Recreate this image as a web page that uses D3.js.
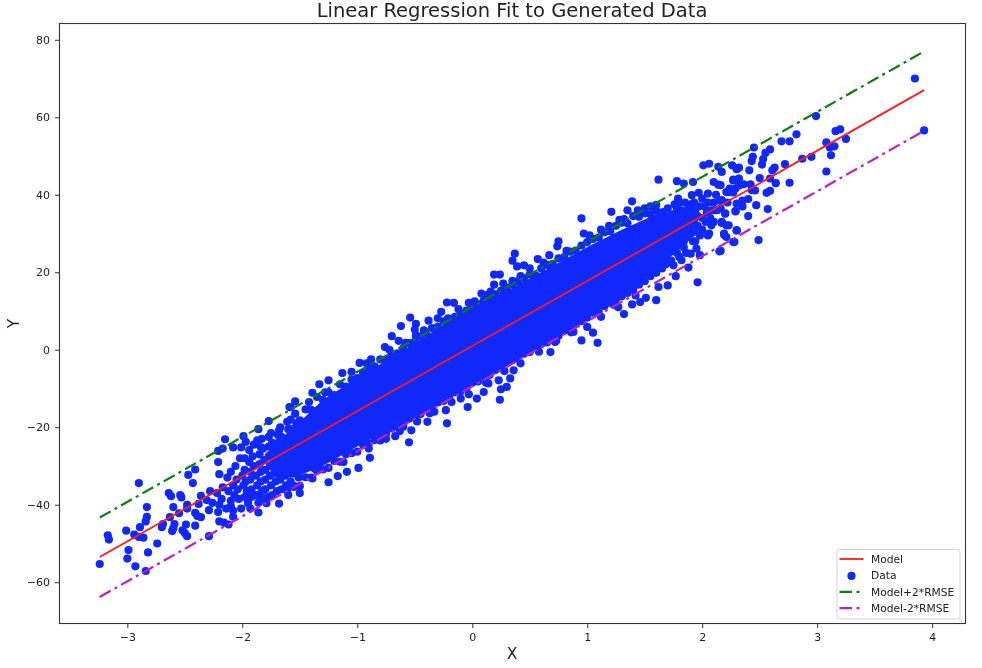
<!DOCTYPE html>
<html>
<head>
<meta charset="utf-8">
<script src="https://cdn.jsdelivr.net/npm/d3@7"></script>
<style>
  html, body { margin: 0; background: #fff; }
  svg { filter: blur(0.35px); }
  text { font-family: "DejaVu Sans", sans-serif; fill: #222; }
</style>
</head>
<body>
<svg id="chart" width="982" height="668"></svg>
<script>
// tick labels
const xTicks = [-3, -2, -1, 0, 1, 2, 3, 4];
const yTicks = [-60, -40, -20, 0, 20, 40, 60, 80];

// fitted lines, end points
const lineX = [-3.24, 3.93];
const modelY = [-53.5, 67];
const plusY = [-43.3, 77];
const minusY = [-63.8, 56.5];

// the middle of the cloud is thousands of overplotted dots, solid blue in the
// reference, so it is kept as an envelope read off the picture, not single dots
const coreX = [-1.75, -1.55, -1.3, -1.0, -0.6, -0.2, 0.2, 0.6, 1.0, 1.3, 1.6, 1.8, 1.95];
const coreUpper = [-25, -20, -13, -7.3, -0.2, 7.4, 13.6, 20, 26.5, 31, 35, 36, 37];
const coreLower = [-33, -33, -30, -25, -18.4, -11.8, -5.2, 1.7, 8.6, 14, 20.5, 26, 30];

const leftTail = [[-3.24,-55.3],[-3.17,-47.9],[-3.16,-49],[-3.01,-46.7],[-2.99,-51.7],[-3,-53.9],[-2.93,-55.9],[-2.84,-57.1],[-2.82,-52.3],[-2.74,-50],[-2.9,-34.4],[-2.94,-47.7],[-2.9,-48.3],[-2.86,-48.5],[-2.89,-45.8],[-2.84,-44.3],[-2.83,-43.1],[-2.83,-40.6],[-2.69,-45],[-2.7,-45.8],[-2.63,-43.2],[-2.6,-40.6],[-2.64,-37],[-2.62,-37.8],[-2.54,-37.5],[-2.53,-38.1],[-2.59,-45],[-2.6,-46.1],[-2.61,-46.8],[-2.55,-42.2],[-2.48,-40],[-2.48,-41],[-2.52,-46.6],[-2.49,-45.1],[-2.5,-47.3],[-2.48,-48.1],[-2.41,-45.4],[-2.41,-42.1],[-2.39,-42.9],[-2.36,-43.2],[-2.38,-39.8],[-2.36,-37.7],[-2.47,-32.3],[-2.41,-30.9],[-2.43,-34.4],[-2.29,-48.1],[-2.31,-38.8],[-2.29,-41.4],[-2.21,-41.9],[-2.2,-44.3],[-2.16,-44.6],[-2.12,-45.1],[-2.08,-43.1],[-2.21,-29],[-2.2,-32.1],[-2.21,-26.1],[-2.17,-25.5],[-2.15,-23.1],[-2.08,-25.2],[-2.01,-25.2],[-1.99,-22.3],[-1.97,-23.8],[-1.94,-25.9],[-1.86,-42],[-1.68,-39.7],[-1.79,-39.6],[-1.77,-18.4],[-1.86,-20.5],[-1.58,-14.8]];

const leftFill = [[-2.28,-36.5],[-2.26,-39.5],[-2.22,-37],[-2.2,-40],[-2.17,-35.5],[-2.18,-38.5],[-2.13,-33],[-2.12,-36.5],[-2.1,-39],[-2.14,-41],[-2.08,-41.5],[-2.06,-30],[-2.05,-33.5],[-2.04,-36],[-2.03,-38.5],[-2.01,-41],[-1.98,-28],[-1.98,-31],[-1.97,-34],[-1.96,-36.5],[-1.95,-39.5],[-1.93,-41],[-1.9,-24.5],[-1.91,-27.5],[-1.9,-30],[-1.88,-32.5],[-1.87,-35],[-1.88,-37.5],[-1.86,-39.5],[-1.83,-23],[-1.82,-25.5],[-1.81,-28.5],[-1.8,-31],[-1.8,-33.5],[-1.8,-36],[-1.78,-38],[-1.75,-21.5],[-1.74,-24],[-1.73,-26],[-1.73,-29],[-1.72,-31.5],[-1.71,-34],[-1.7,-36.5],[-1.67,-20],[-1.66,-22.5],[-1.65,-25],[-1.65,-27.5],[-1.64,-30],[-1.63,-32.5],[-1.62,-35],[-1.6,-37.5],[-1.58,-18],[-1.57,-20.5],[-1.56,-23],[-1.55,-26],[-1.54,-16.5]];

const leftFill2 = [[-2.1,-31.5],[-2.08,-35],[-2.07,-37.5],[-2.02,-28],[-2,-32.5],[-1.99,-35],[-1.98,-38],[-1.94,-29],[-1.93,-31.5],[-1.93,-33.5],[-1.92,-36],[-1.92,-38],[-1.85,-27],[-1.85,-29.5],[-1.84,-31.5],[-1.84,-34],[-1.83,-36.5],[-1.83,-38.5],[-1.77,-25],[-1.77,-27.5],[-1.76,-30],[-1.76,-32.5],[-1.75,-35],[-1.74,-37.5],[-1.69,-22],[-1.69,-24],[-1.69,-26.5],[-1.68,-29],[-1.68,-31],[-1.67,-33.5],[-1.66,-36],[-1.6,-20.5],[-1.6,-23],[-1.6,-25],[-1.6,-27],[-1.59,-29.5],[-1.58,-31.5],[-1.58,-34],[-1.53,-19],[-1.52,-21],[-1.52,-31],[-1.51,-33],[-1.5,-37],[-1.87,-23.4],[-1.77,-22.5],[-1.68,-20.8],[-1.61,-18.6],[-1.84,-25.1],[-1.76,-27.2],[-1.61,-36.3],[-1.95,-39.7],[-2.1,-40.4]];

const upperEdge = [[-1.5,-18.2],[-1.45,-15.4],[-1.4,-15.5],[-1.35,-12.2],[-1.3,-12.9],[-1.25,-11],[-1.2,-11.7],[-1.15,-8.9],[-1.1,-9.5],[-1.05,-7.7],[-1,-7.3],[-0.95,-6],[-0.9,-4.7],[-0.85,-4.3],[-0.8,-2.5],[-0.75,-2.6],[-0.7,-1.3],[-0.65,-0.9],[-0.6,0.4],[-0.55,1.7],[-0.5,2.1],[-0.45,3.4],[-0.4,4.3],[-0.35,5.6],[-0.3,5.9],[-0.25,7.3],[-0.2,7.6],[-0.15,8.5],[-0.1,9.3],[-0.05,10.1],[0,11],[0.05,11.8],[0.1,12.7],[0.15,13.5],[0.2,14.3],[0.25,15.2],[0.3,16],[0.35,16.9],[0.4,17.7],[0.45,18.5],[0.5,19.4],[0.55,19.2],[0.6,21],[0.65,21.9],[0.7,22.2],[0.75,23.6],[0.8,23.9],[0.85,25.3],[0.9,25.6],[0.95,26.9],[1,27.8],[1.05,28.6],[1.1,29],[1.15,30.3],[1.2,30.6],[1.25,32],[1.3,32.8],[1.35,32.65],[1.4,34.5],[1.45,34.3],[1.5,35.2],[1.55,35],[1.6,35.9]];

const upperStray = [[0.37,24.8],[0.35,23],[0.39,21.5],[0.19,19.4],[0.24,19.4],[0.19,16.8],[0.27,17.1],[0.35,17.8],[-0.22,12.2],[-0.16,12.1],[-0.03,12.1],[-0.27,9.8],[-0.54,8.3],[-0.62,6.1],[-0.49,6.7],[-0.5,5.2],[-0.38,7.5],[-0.3,8.1],[-0.21,8.1],[-0.7,3.5],[-0.49,3.7],[-0.64,2.3],[-0.76,0.7],[-0.98,-3.4],[-0.88,-2.5],[-1.13,-6],[-1.05,-5.7],[-1.25,-7.9],[-1.33,-8.9],[-1.39,-11.1],[-1.54,-13.3],[-1.59,-14.8],[0.13,14.1],[1.62,43.9],[1.78,43.5],[1.84,42.9],[1.92,43.3],[2.01,47.6],[2.06,48],[2.14,47.2],[2.17,45.9],[2.1,43.3],[2.14,42.6],[2.27,43.7],[2.26,47.6],[2.23,40.7],[2.29,41.6],[1.39,38.3],[1.21,35.6],[0.95,33.9],[1.35,36],[1.5,36.5],[1.6,37.4],[1.91,39.9],[1.97,40.5],[2.05,40.3],[0.75,28],[0.74,26.7],[0.97,30],[1.19,32],[1.32,33.7],[0.57,23.4],[0.67,24.4],[0.45,21.8],[0.5,21],[1.79,39],[-1.42,-13.5],[-1.28,-11],[-0.92,-3.5],[-0.72,0],[-0.58,1.8],[-0.42,5],[-0.12,10.5],[0.02,12.5],[0.08,14.5],[0.16,15],[0.42,19],[0.62,22.5],[0.82,25.5],[1.02,29.5],[1.12,31],[1.28,33.5],[1.44,36],[1.55,37]];

const lowerEdge = [[-1.55,-35.1],[-1.5,-35.2],[-1.45,-32.9],[-1.4,-33],[-1.35,-31.2],[-1.3,-30.9],[-1.25,-30.5],[-1.2,-28.7],[-1.15,-28.9],[-1.1,-27],[-1.05,-26.7],[-1,-26.3],[-0.95,-24.5],[-0.9,-24.2],[-0.85,-23.3],[-0.8,-22],[-0.75,-21.6],[-0.7,-20.3],[-0.65,-19.95],[-0.6,-19.1],[-0.55,-17.8],[-0.5,-17.4],[-0.45,-16.6],[-0.4,-15.25],[-0.35,-14.9],[-0.3,-13.6],[-0.25,-13.2],[-0.2,-12.4],[-0.15,-11],[-0.1,-10.7],[-0.05,-9.9],[0,-8.5],[0.05,-8.2],[0.1,-6.85],[0.15,-6.5],[0.2,-5.2],[0.25,-4.8],[0.3,-3.5],[0.35,-2.65],[0.4,-2.3],[0.45,-1],[0.5,-0.6],[0.55,0.7],[0.6,1.5],[0.65,1.9],[0.7,3.2],[0.75,3.6],[0.8,4.9],[0.85,5.75],[0.9,6.6],[0.95,7.4],[1,8.3],[1.05,9.6],[1.1,10],[1.15,11.3],[1.2,12.1],[1.25,13],[1.3,13.8],[1.35,14.65],[1.4,15.5],[1.45,16.8],[1.5,17.7],[1.55,19],[1.6,19.85]];

const lowerStray = [[-0.22,-19],[-0.23,-15.6],[-0.04,-14.8],[-0.37,-16.4],[-0.55,-23.9],[-0.67,-22.3],[-0.53,-20.8],[0.24,-12.9],[0.04,-12.6],[0.1,-10.9],[-0.1,-12.6],[0.25,-10.2],[0.3,-9.6],[0.33,-7.4],[0.36,-5.3],[0.14,-8.7],[0.23,-7.9],[-0.8,-23.4],[-0.9,-25.5],[-0.39,-18.6],[-0.6,-19.9],[1.96,17.4],[2.15,25.4],[2.27,27.8],[2.3,30.8],[2.05,29.5],[1.88,21.2],[1.77,19],[1.7,16.6],[1.6,12.8],[1.62,16.2],[1.39,11.7],[1.32,9.2],[1.46,12.3],[1.51,13.4],[1.23,11.6],[1.09,1.8],[0.95,2.4],[1.05,4.4],[1,5.9],[0.88,4.6],[0.73,2.3],[0.68,-0.6],[-0.89,-27.9],[-0.99,-30.5],[-1.09,-31.5],[-1.17,-32.6],[-1.25,-34.2],[-1.39,-33.2],[-1.55,-35.4],[-1.12,-29],[-1.37,-30.7],[-0.75,-23],[-0.63,-21],[-0.48,-18.5],[-0.33,-16],[-0.18,-13.5],[-0.03,-11.5],[0.12,-8.5],[0.28,-5.5],[0.42,-3.5],[0.58,-0.5],[0.72,2],[0.86,4.5],[1.12,8.5],[1.27,11],[1.42,14]];

const rightFill = [[1.62,24],[1.63,27],[1.64,30],[1.62,33],[1.68,25],[1.68,28],[1.7,31],[1.69,34],[1.7,36.5],[1.68,22],[1.74,26],[1.75,29],[1.76,32],[1.75,35],[1.76,37.5],[1.8,27],[1.8,29.5],[1.82,33],[1.82,36],[1.8,38],[1.86,29],[1.87,31.5],[1.87,34],[1.88,37],[1.92,28],[1.93,30.5],[1.93,33],[1.94,35.5],[1.93,38],[2,31],[2,34],[2.02,37],[2,39],[2.07,34],[2.08,36],[2.1,38],[2.06,30],[2.13,36],[2.15,38.5],[2.12,40],[1.9,24.8],[1.98,24.4],[1.82,23.1],[1.75,21.8],[1.84,26.4],[1.95,26.1],[1.98,29.5],[2.08,32.1],[2.21,32.1],[2.17,33],[2.2,35.2],[2.29,35.8],[2.19,30],[2.21,29.1],[1.65,32],[1.66,35.5],[1.72,27],[1.72,30],[1.72,33],[1.73,23],[1.78,25],[1.78,28],[1.78,31],[1.78,34],[1.78,36.5],[1.84,28],[1.84,31],[1.84,35],[1.85,38],[1.9,30],[1.9,32.5],[1.9,35],[1.9,37.5],[1.96,32],[1.96,34.5],[1.97,37],[2.03,33],[2.04,35.5],[2.05,38],[2.1,33],[2.11,36],[1.65,21],[1.7,22.5],[1.8,24],[1.86,25],[1.94,28]];

const rightTail = [[3.85,70],[3.93,56.6],[2.99,60.3],[2.82,55.6],[2.69,53.8],[2.76,53.8],[3.16,56.4],[3.2,56.9],[3.25,54.4],[3.08,53.5],[3.11,52.2],[3.15,52.5],[3.12,50.2],[3.08,46],[2.95,49.8],[2.87,49.3],[2.45,52.2],[2.59,51.7],[2.55,50.8],[2.44,49.8],[2.43,48.7],[2.53,49.2],[2.52,47.8],[2.72,47.9],[2.63,47],[2.61,46.3],[2.41,46.3],[2.32,47],[2.3,46.6],[2.5,44.3],[2.59,44.2],[2.76,43.1],[2.64,43],[2.32,44.2],[2.27,43.9],[2.42,42.7],[2.36,42.7],[2.32,42.4],[2.24,41.6],[2.21,40.7],[2.27,40.6],[2.43,41.2],[2.46,41.1],[2.59,41],[2.56,40.5],[2.4,38.9],[2.35,38.5],[2.3,37.7],[2.22,38],[2.17,38.6],[2.35,37],[2.47,37.3],[2.57,36.3],[2.29,35.7],[2.2,35.1],[2.4,34.5],[2.23,32.1],[2.17,32.7],[2.3,30.8],[2.19,29.7],[2.49,28.3],[2.28,27.8],[2.16,25.5],[2.16,36.5],[2.16,42.5]];

const legendLabels = ['Model', 'Data', 'Model+2*RMSE', 'Model-2*RMSE'];

const scatter = [].concat(leftTail, leftFill, leftFill2, upperEdge, upperStray, lowerEdge, lowerStray, rightFill, rightTail);

// colours
const blue = '#1128fb';
const red = '#ff1a1a';
const green = '#0a7f0a';
const magenta = '#bf1fbf';

const svg = d3.select('#chart');

const x = d3.scaleLinear().domain([-3.59, 4.29]).range([59.5, 965.5]);
const y = d3.scaleLinear().domain([-70.65, 84.2]).range([623.5, 23.5]);

// core + points
const coreRows = coreX.map((d, i) => ({x: d, hi: coreUpper[i], lo: coreLower[i]}));
svg.append('path')
    .attr('fill', blue)
    .attr('d', d3.area().x(d => x(d.x)).y0(d => y(d.lo)).y1(d => y(d.hi))(coreRows));

svg.append('g').selectAll('circle')
    .data(scatter)
    .enter()
    .append('circle')
    .attr('cx', d => x(d[0]))
    .attr('cy', d => y(d[1]))
    .attr('r', 4.1)
    .attr('fill', blue);

// lines
const dashDot = '12.5,4.5,3,4.5';
const line = d3.line().x(d => x(d[0])).y(d => y(d[1]));
const series = [
    {ys: modelY, color: red, width: 1.8, dash: null},
    {ys: plusY, color: green, width: 2.2, dash: dashDot},
    {ys: minusY, color: magenta, width: 2.2, dash: dashDot}
];
series.forEach(s => {
    svg.append('path')
        .attr('fill', 'none')
        .attr('stroke', s.color)
        .attr('stroke-width', s.width)
        .attr('stroke-dasharray', s.dash)
        .attr('d', line(lineX.map((d, i) => [d, s.ys[i]])));
});

// axes
const xAxis = svg.append('g')
    .attr('transform', 'translate(0,623.5)')
    .call(d3.axisBottom(x).tickValues(xTicks).tickSize(4.5).tickPadding(5));
const yAxis = svg.append('g')
    .attr('transform', 'translate(59.5,0)')
    .call(d3.axisLeft(y).tickValues(yTicks).tickSize(4.5).tickPadding(5));
[xAxis, yAxis].forEach(a => {
    a.select('.domain').remove();
    a.selectAll('line').attr('stroke', '#333');
    a.selectAll('text').style('font-size', '11px').style('font-family', '"DejaVu Sans"');
});

svg.append('rect')
    .attr('x', 59.5).attr('y', 23.5)
    .attr('width', 906).attr('height', 600)
    .attr('fill', 'none')
    .attr('stroke', '#333')
    .attr('stroke-width', 1.1);

// titles
svg.append('text')
    .attr('x', 512).attr('y', 16.5)
    .attr('text-anchor', 'middle')
    .style('font-size', '19.5px')
    .text('Linear Regression Fit to Generated Data');
svg.append('text')
    .attr('x', 512).attr('y', 658.5)
    .attr('text-anchor', 'middle')
    .style('font-size', '15.5px')
    .text('X');
svg.append('text')
    .attr('transform', 'translate(19,323.5) rotate(-90)')
    .attr('text-anchor', 'middle')
    .style('font-size', '15.5px')
    .text('Y');

// legend
const legend = svg.append('g').attr('transform', 'translate(837,549.5)');
legend.append('rect')
    .attr('width', 123).attr('height', 69.5)
    .attr('rx', 2.5)
    .attr('fill', '#fff').attr('fill-opacity', 0.85)
    .attr('stroke', '#d5d5d5');
legendLabels.forEach((label, i) => {
    const rowY = 9.5 + i * 16.4;
    if (i === 1) {
        legend.append('circle').attr('cx', 14.5).attr('cy', rowY + 0.5).attr('r', 4.1).attr('fill', blue);
    } else {
        const s = i === 0 ? series[0] : series[i - 1];
        legend.append('line')
            .attr('x1', 2.5).attr('x2', 26.5)
            .attr('y1', rowY).attr('y2', rowY)
            .attr('stroke', s.color)
            .attr('stroke-width', s.width)
            .attr('stroke-dasharray', s.dash);
    }
    legend.append('text')
        .attr('x', 34).attr('y', rowY + 4)
        .style('font-size', '10.7px')
        .text(label);
});
</script>
</body>
</html>
